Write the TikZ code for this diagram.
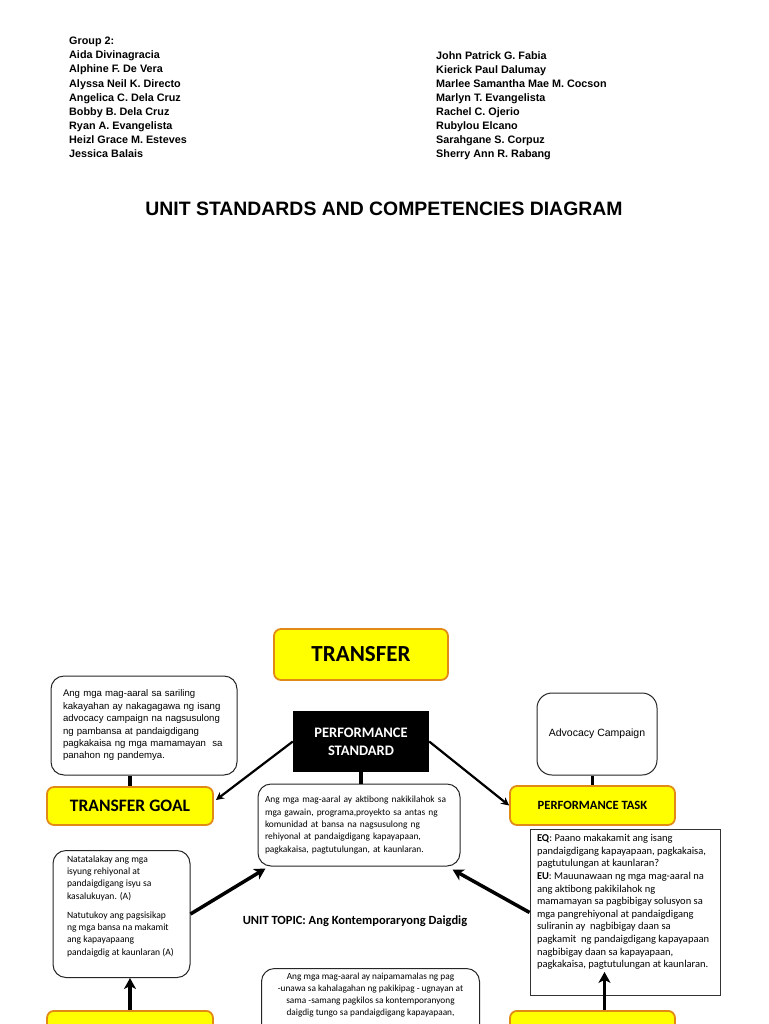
\documentclass[tikz,border=0pt]{standalone}
\usepackage{fontspec}
\setmainfont{Carlito}
\newfontfamily\arial{Liberation Sans}
\usetikzlibrary{arrows.meta,calc}
\definecolor{yfill}{RGB}{255,255,0}
\definecolor{yborder}{RGB}{226,138,22}
\begin{document}
\begin{tikzpicture}[x=1pt,y=-1pt,
  ybox/.style={draw=yborder,line width=1.8pt,rounded corners=7pt,fill=yfill,inner sep=0pt},
  tbox/.style={draw=black!85,line width=1pt,rounded corners=13pt,fill=white,inner sep=0pt},
  conn/.style={line width=3.5pt},
  arr/.style={line width=2.2pt,-{Stealth[length=8pt,width=8pt]}},
  barr/.style={line width=3.5pt,-{Stealth[length=11pt,width=12pt,inset=3pt]}},
  names/.style={font=\arial\bfseries\fontsize{10.8}{14.1}\selectfont,align=left,inner sep=0pt}
]
\useasboundingbox (0,0) rectangle (768,1024);
\fill[white] (0,0) rectangle (768,1024);

% header
\node[names,anchor=north west] (left) at (69,37) {Group 2:\\Aida Divinagracia\\Alphine F. De Vera\\Alyssa Neil K. Directo\\Angelica C. Dela Cruz\\Bobby B. Dela Cruz\\Ryan A. Evangelista\\Heizl Grace M. Esteves\\Jessica Balais};
\node[names,anchor=north west] (right) at (436,51.1) {John Patrick G. Fabia\\Kierick Paul Dalumay\\Marlee Samantha Mae M. Cocson\\Marlyn T. Evangelista\\Rachel C. Ojerio\\Rubylou Elcano\\Sarahgane S. Corpuz\\Sherry Ann R. Rabang};
\node[font=\arial\bfseries\fontsize{19.4}{22}\selectfont,inner sep=0pt] (title) at (384,209) {UNIT STANDARDS AND COMPETENCIES DIAGRAM};

% diagram boxes
\node[ybox,minimum width=174pt,minimum height=51pt] (transfer) at (361,654.5) {\fontsize{23}{26}\selectfont\bfseries TRANSFER};

\node[tbox,minimum width=186pt,minimum height=99pt,text width=162pt,align=left,
  font=\arial\fontsize{9.6}{12.4}\selectfont] (goaltxt) at (144,725.5)
  {Ang mga mag-aaral sa sariling\\kakayahan ay nakagagawa ng isang\\advocacy campaign na nagsusulong\\ng pambansa at pandaigdigang\\pagkakaisa ng mga mamamayan\ \ sa\\panahon ng pandemya.};

\node[ybox,minimum width=166pt,minimum height=38pt] (tgoal) at (130,806) {\fontsize{17.5}{19}\selectfont\bfseries TRANSFER GOAL};

\node[fill=black,minimum width=136pt,minimum height=61pt,inner sep=0pt,text=white,align=center,
  font=\bfseries\fontsize{14.5}{18}\selectfont] (psb) at (361,741.5) {PERFORMANCE\\STANDARD};

\node[tbox,minimum width=202pt,minimum height=82pt,text width=188pt,align=left,
  font=\fontsize{9.4}{12.3}\selectfont] (ps) at (359,825)
  {Ang mga mag-aaral ay aktibong nakikilahok sa\\mga gawain, programa,proyekto sa antas ng\\komunidad at bansa na nagsusulong ng\\rehiyonal at pandaigdigang kapayapaan,\\pagkakaisa, pagtutulungan, at kaunlaran.};

\node[tbox,rounded corners=15pt,minimum width=120pt,minimum height=82pt,font=\arial\fontsize{10.5}{12}\selectfont] (adv) at (597,734) {Advocacy Campaign};

\node[ybox,minimum width=165pt,minimum height=39pt] (pt) at (592.5,805.5) {\fontsize{12.6}{14}\selectfont\bfseries PERFORMANCE TASK};

\node[draw=black!80,line width=0.9pt,fill=white,minimum width=190pt,inner xsep=7pt,inner ysep=5pt,anchor=north,
  font=\fontsize{10.5}{12.6}\selectfont] (eq) at (625,829)
  {\parbox[t][156pt][t]{176pt}{\raggedright\textbf{EQ}: Paano makakamit ang isang\\pandaigdigang kapayapaan, pagkakaisa,\\pagtutulungan at kaunlaran?\\\textbf{EU}: Mauunawaan ng mga mag-aaral na\\ang aktibong pakikilahok ng\\mamamayan sa pagbibigay solusyon sa\\mga pangrehiyonal at pandaigdigang\\suliranin ay\ \ nagbibigay daan sa\\pagkamit\ \ ng pandaigdigang kapayapaan\\nagbibigay daan sa kapayapaan,\\pagkakaisa, pagtutulungan at kaunlaran.}};

\node[tbox,minimum width=137pt,inner xsep=14pt,inner ysep=5pt,anchor=north,
  font=\fontsize{9.6}{12.3}\selectfont] (ll) at (121.5,850)
  {\parbox[t][117pt][t]{109pt}{\raggedright Natatalakay ang mga\\isyung rehiyonal at\\pandaigdigang isyu sa\\kasalukuyan. (A)\\[7pt]Natutukoy ang pagsisikap\\ng mga bansa na makamit\\ang kapayapaang\\pandaigdig at kaunlaran (A)}};

\node[font=\bfseries\fontsize{12.5}{14}\selectfont,inner sep=0pt] (topic) at (355,921) {UNIT TOPIC: Ang Kontemporaryong Daigdig};

\node[tbox,minimum width=218pt,inner xsep=4pt,inner ysep=5pt,anchor=north,
  font=\fontsize{9.3}{11.7}\selectfont] (um) at (370.5,968)
  {\parbox[t][100pt][t]{210pt}{\centering Ang mga mag-aaral ay naipamamalas ng pag\\-unawa sa kahalagahan ng pakikipag - ugnayan at\\sama -samang pagkilos sa kontemporanyong\\daigdig tungo sa pandaigdigang kapayapaan,}};

\node[ybox,minimum width=166pt,minimum height=38pt,anchor=north] (bl) at (130,1010) {};
\node[ybox,minimum width=165pt,minimum height=38pt,anchor=north] (br) at (592.5,1010) {};

% connectors
\draw[conn] (goaltxt.south -| tgoal.north) -- (tgoal.north);
\draw[arr] (psb.west) -- ([xshift=2pt,yshift=6pt]tgoal.east);
\draw[arr] (psb.east) -- (pt.west);
\draw[conn] (psb.south) -- (psb.south |- ps.north);
\draw[conn] (pt.north |- adv.south) -- (pt.north);
\draw[barr] (eq.west) -- ([xshift=-8pt,yshift=-3pt]ps.south east);
\draw[barr] (ll.east) -- ([xshift=8pt,yshift=-2pt]ps.south west);
\draw[barr] (bl.north) -- (bl.north |- ll.south);
\draw[barr] ([xshift=12pt]br.north) -- ([xshift=12pt,yshift=24pt]br.north |- eq.south);
\end{tikzpicture}
\end{document}
